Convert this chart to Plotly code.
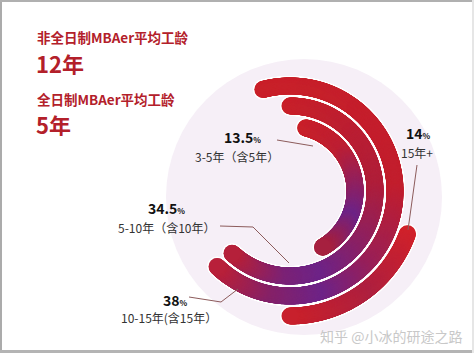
import numpy as np
import plotly.graph_objects as go

W, H = 474, 353

# ---------------- data ----------------
categories = ["3-5年（含5年）", "5-10年（含10年）", "10-15年(含15年）", "15年+"]
shares = [13.5, 34.5, 38, 14]
arc_start_deg = [14, 0, -15, 110]      # clockwise from 12 o'clock
arc_end_deg = [150, 223, 224, 180]
ring_level = [1, 2, 3, 4]

headline_labels = ["非全日制MBAer平均工龄", "全日制MBAer平均工龄"]
headline_values = ["12年", "5年"]

# ---------------- styles ----------------
RED_TEXT = "#b3202a"
ring_colorscales = [
    [[0, "#c9202a"], [0.3, "#bd2034"], [0.55, "#92215f"], [0.75, "#6e2487"], [1, "#a6203f"]],
    [[0, "#c9202a"], [0.4, "#b01f3a"], [0.6, "#8a2266"], [0.74, "#6e2488"], [0.85, "#7c2376"], [1, "#b5203a"]],
    [[0, "#c9202a"], [0.44, "#c21f2e"], [0.63, "#9a2058"], [0.76, "#6e2488"], [0.88, "#862268"], [1, "#b8203a"]],
    [[0, "#d2222a"], [0.5, "#ae2040"], [1, "#c8202c"]],
]
BAR_PX = 17
GAP_PX = 3
FONT = "Noto Sans CJK SC"


def px(x):
    return x / W


def py(y):
    return 1 - y / H


fig = go.Figure()

for i in range(len(categories)):
    step = 0.25
    theta = np.arange(arc_start_deg[i], arc_end_deg[i] + step / 2, step)
    r = np.full(theta.shape, ring_level[i], dtype=float)
    t = (theta - theta[0]) / (theta[-1] - theta[0])
    fig.add_trace(go.Scatterpolar(
        r=r, theta=theta, mode="markers",
        marker=dict(size=BAR_PX + GAP_PX, color="white", line=dict(width=0)),
        hoverinfo="skip", showlegend=False))
    fig.add_trace(go.Scatterpolar(
        r=r, theta=theta, mode="markers",
        marker=dict(size=BAR_PX, color=t, colorscale=ring_colorscales[i],
                    cmin=0, cmax=1, showscale=False, line=dict(width=0)),
        name=categories[i], hoverinfo="name", showlegend=False))

shapes = []
# lavender background disc
shapes.append(dict(type="circle", xref="paper", yref="paper", layer="below",
                   x0=px(166), x1=px(442), y0=py(335), y1=py(59),
                   fillcolor="#f6eff7", line=dict(width=0)))

# leader lines
LEADER = dict(color="#8c5b5b", width=1)
leaders = [
    [(277, 140), (313, 146)],
    [(220, 226), (253, 227), (289, 263)],
    [(189, 297), (221, 302), (238, 289)],
    [(417, 165), (408, 230)],
]
for pts in leaders:
    for (xa, ya), (xb, yb) in zip(pts[:-1], pts[1:]):
        shapes.append(dict(type="line", xref="paper", yref="paper",
                           x0=px(xa), y0=py(ya), x1=px(xb), y1=py(yb),
                           line=LEADER, layer="above"))

# frame of the screenshot
FR = dict(width=0)
shapes += [
    dict(type="rect", xref="paper", yref="paper", x0=0, x1=px(2), y0=0, y1=1, fillcolor="#ababab", line=FR),
    dict(type="rect", xref="paper", yref="paper", x0=0, x1=1, y0=py(2), y1=1, fillcolor="#b0b0b0", line=FR),
    dict(type="rect", xref="paper", yref="paper", x0=0, x1=1, y0=0, y1=py(350), fillcolor="#b4b4b4", line=FR),
    dict(type="rect", xref="paper", yref="paper", x0=px(472), x1=1, y0=0, y1=1, fillcolor="#e6e6e6", line=FR),
]

ann = []
# headlines
ann.append(dict(text="<b>" + headline_labels[0] + "</b>", x=px(35), y=py(37), xanchor="left", yanchor="middle",
                height=17, font=dict(family=FONT, size=13.5, color=RED_TEXT)))
ann.append(dict(text="<b>" + headline_values[0] + "</b>", x=px(34), y=py(62.5), xanchor="left", yanchor="middle",
                height=25, font=dict(family=FONT, size=22, color=RED_TEXT)))
ann.append(dict(text="<b>" + headline_labels[1] + "</b>", x=px(35), y=py(99), xanchor="left", yanchor="middle",
                height=17, font=dict(family=FONT, size=13.5, color=RED_TEXT)))
ann.append(dict(text="<b>" + headline_values[1] + "</b>", x=px(34), y=py(123.5), xanchor="left", yanchor="middle",
                height=25, font=dict(family=FONT, size=22, color=RED_TEXT)))

# slice labels
label_pos = [
    ((243, 137), (237, 156)),
    ((166, 208), (166, 227)),
    ((175, 300), (169, 317)),
    ((418, 133), (417, 152)),
]
for i in range(len(categories)):
    (vx, vy), (cx_, cy_) = label_pos[i]
    val = ("%g" % shares[i])
    ann.append(dict(text="<b>" + val + "</b><span style='font-size:8px'><b>%</b></span>",
                    x=px(vx), y=py(vy), xanchor="center", yanchor="middle",
                    font=dict(family=FONT, size=14, color="#111111")))
    ann.append(dict(text=categories[i], x=px(cx_), y=py(cy_), xanchor="center", yanchor="middle",
                    font=dict(family=FONT, size=12, color="#333333")))

# watermark
ann.append(dict(text="知乎 @小冰的研途之路", x=px(391), y=py(336), xanchor="center", yanchor="middle",
                font=dict(family=FONT, size=14, color="#c8c8c8")))

for a in ann:
    a.update(xref="paper", yref="paper", showarrow=False)

fig.update_layout(
    width=W, height=H,
    margin=dict(l=0, r=0, t=0, b=0),
    paper_bgcolor="white",
    plot_bgcolor="white",
    showlegend=False,
    shapes=shapes,
    annotations=ann,
    polar=dict(
        domain=dict(x=[px(140), px(440)], y=[py(341), py(41)]),
        bgcolor="rgba(0,0,0,0)",
        radialaxis=dict(range=[-2.25, 5.25], visible=False, showgrid=False, showline=False,
                        showticklabels=False, ticks=""),
        angularaxis=dict(rotation=90, direction="clockwise", visible=False, showgrid=False,
                         showline=False, showticklabels=False, ticks=""),
    ),
)

fig.write_html("out.html")
